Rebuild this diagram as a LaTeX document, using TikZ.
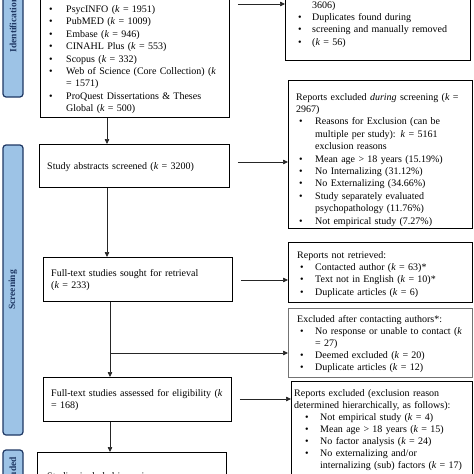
\documentclass[tikz,border=0pt]{standalone}
\usepackage{fontspec}
\setmainfont{Liberation Serif}
\usetikzlibrary{arrows.meta}
\definecolor{barfill}{RGB}{157,195,230}
\definecolor{barline}{RGB}{31,56,100}
\newlength{\bhang}\setlength{\bhang}{19pt}
\newlength{\boff}\setlength{\boff}{3pt}
\newcommand{\firstbul}[1]{\hangindent=\bhang\hangafter=1 \makebox[\bhang][l]{\hspace{\boff}\textbullet}#1}
\newcommand{\nextbul}[1]{\par\firstbul{#1}}
\newcommand{\kk}{\textit{k}}
\tikzset{
  box/.style={draw=black, line width=0.9pt, anchor=north west, inner sep=0pt},
  graybox/.style={box, draw=black!55},
  txt/.style={anchor=base west, inner sep=0pt, align=left, font=\fontsize{10}{12.4}\selectfont},
  bul/.style 2 args={execute at begin node={\setlength{\boff}{#1}\setlength{\bhang}{#2}}},
  bar/.style={draw=barline, fill=barfill, line width=1.2pt, rounded corners=3pt},
  bartxt/.style={rotate=90, inner sep=0pt, font=\bfseries\fontsize{9.5}{11}\selectfont, text=barline},
  arr/.style={draw=black!85, line width=0.7pt, -{Triangle[length=5pt,width=4.5pt]}},
}
\begin{document}
\begin{tikzpicture}[x=1pt,y=-1pt]
\useasboundingbox (0,0) rectangle (474,474);
\fill[white] (0,0) rectangle (474,474);

% side bars
\draw[bar] (3,-50) rectangle (23,97);
\node[bartxt] (idbar) at (13,25) {Identification};
\draw[bar] (3,145) rectangle (23,435);
\node[bartxt] (scbar) at (13,290) {Screening};
\draw[bar] (3,450) rectangle (23,520);
\node[bartxt] (inbar) at (13,475) {Included};

% left column boxes
\node[box, minimum width=189pt, minimum height=157pt] (id1) at (40,-40) {};
\node[txt, text width=178pt, bul={3pt}{20pt}] (id1t) at (46,12.5)
 {\firstbul{PsycINFO (\kk{} = 1951)}\nextbul{PubMED (\kk{} = 1009)}\nextbul{Embase (\kk{} = 946)}\nextbul{CINAHL Plus (\kk{} = 553)}\nextbul{Scopus (\kk{} = 332)}\nextbul{Web of Science (Core Collection) (\kk\newline = 1571)}\nextbul{ProQuest Dissertations \& Theses\newline Global (\kk{} = 500)}\par};

\node[box, minimum width=190pt, minimum height=43pt] (sc1) at (39,144) {};
\node[txt, text width=180pt] (sc1t) at (47,169) {Study abstracts screened (\kk{} = 3200)};

\node[box, minimum width=189pt, minimum height=44pt] (sc2) at (43,257) {};
\node[txt, text width=178pt] (sc2t) at (51,276) {Full-text studies sought for retrieval\\(\kk{} = 233)};

\node[box, minimum width=188pt, minimum height=44pt] (sc3) at (43,377) {};
\node[txt, text width=178pt] (sc3t) at (51,396) {Full-text studies assessed for eligibility (\kk\\= 168)};

\node[box, minimum width=189pt, minimum height=68pt] (in1) at (37,452) {};
\node[txt, text width=178pt] (in1t) at (47,479.5) {Studies included in review};

% right column boxes
\node[box, minimum width=185pt, minimum height=100pt] (rb1) at (285,-40) {};
\node[txt, text width=172pt, bul={4pt}{18pt}] (rb1t) at (294,8)
 {\hspace*{\bhang}3606)\nextbul{Duplicates found during}\nextbul{screening and manually removed}\nextbul{(\kk{} = 56)}\par};

\node[box, minimum width=184pt, minimum height=148pt] (rb2) at (288,80) {};
\node[txt, text width=172pt, bul={3pt}{19pt}] (rb2t) at (296,100)
 {Reports excluded \textit{during} screening (\kk{} =\\2967)\nextbul{Reasons for Exclusion (can be\newline multiple per study): \kk{} = 5161\newline exclusion reasons}\nextbul{Mean age > 18 years (15.19\%)}\nextbul{No Internalizing (31.12\%)}\nextbul{No Externalizing (34.66\%)}\nextbul{Study separately evaluated\newline psychopathology (11.76\%)}\nextbul{Not empirical study (7.27\%)}\par};

\node[box, minimum width=184pt, minimum height=60pt] (rb3) at (288,242) {};
\node[txt, text width=172pt, bul={3pt}{18pt}] (rb3t) at (297,258)
 {Reports not retrieved:\nextbul{Contacted author (\kk{} = 63)*}\nextbul{Text not in English (\kk{} = 10)*}\nextbul{Duplicate articles (\kk{} = 6)}\par};

\node[graybox, minimum width=184pt, minimum height=69pt] (rb4) at (288,308) {};
\node[txt, text width=172pt, bul={3pt}{18pt}, font=\fontsize{10}{12}\selectfont] (rb4t) at (297,322)
 {Excluded after contacting authors*:\nextbul{No response or unable to contact (\kk\newline = 27)}\nextbul{Deemed excluded (\kk{} = 20)}\nextbul{Duplicate articles (\kk{} = 12)}\par};

\node[box, minimum width=181pt, minimum height=139pt] (rb5) at (291,381) {};
\node[txt, text width=176pt, bul={11pt}{26pt}, font=\fontsize{10}{12}\selectfont] (rb5t) at (294,396)
 {Reports excluded (exclusion reason\\determined hierarchically, as follows):\nextbul{Not empirical study (\kk{} = 4)}\nextbul{Mean age > 18 years (\kk{} = 15)}\nextbul{No factor analysis (\kk{} = 24)}\nextbul{No externalizing and/or\newline internalizing (sub) factors (\kk{} = 17)}\par};

% connector helpers
\coordinate (ax) at (107,0);
\coordinate (bx) at (110,0);
\coordinate (h1) at (0,4);
\coordinate (h2) at (0,162);
\coordinate (h3) at (0,280);
\coordinate (br) at (110,353);
\coordinate (h5) at (0,399);

% vertical connectors
\draw[arr] (id1.south -| ax) -- (sc1.north -| ax);
\draw[arr] (sc1.south -| ax) -- (sc2.north -| ax);
\draw[arr] (sc2.south -| bx) -- (sc3.north -| bx);
\draw[arr] (sc3.south -| bx) -- (in1.north -| bx);

% horizontal connectors
\draw[arr, shorten <=8pt] (id1.east |- h1) -- (rb1.west |- h1);
\draw[arr, shorten <=8pt] (sc1.east |- h2) -- (rb2.west |- h2);
\draw[arr, shorten <=8pt] (sc2.east |- h3) -- (rb3.west |- h3);
\draw[arr] (br) -- (rb4.west |- br);
\draw[arr, shorten <=8pt] (sc3.east |- h5) -- (rb5.west |- h5);
\end{tikzpicture}
\end{document}
